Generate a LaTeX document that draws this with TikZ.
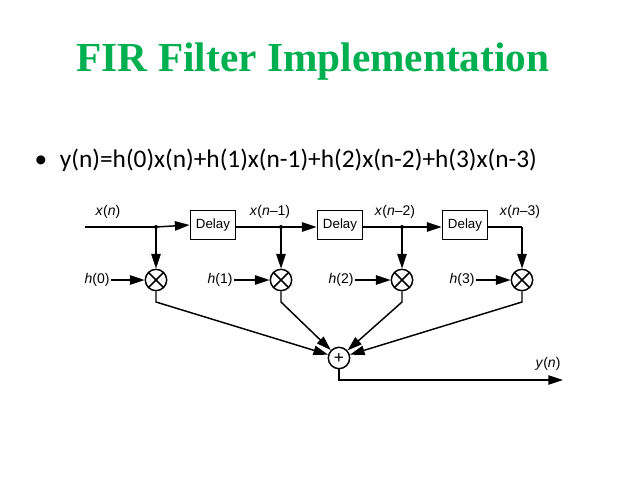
\documentclass[tikz,border=0pt]{standalone}
\usepackage{fontspec}
\setmainfont{Liberation Serif}
\newfontfamily\bodyfont{Carlito}
\newfontfamily\diafont{Liberation Sans}
\usetikzlibrary{arrows.meta}
\definecolor{titlegreen}{RGB}{0,176,80}
\begin{document}
\begin{tikzpicture}[x=0.75pt,y=-0.75pt,
  sig/.style={line width=1.1pt,-{Triangle[length=11pt,width=7pt]}},
  wire/.style={line width=1.1pt},
  delay/.style={draw,line width=1.1pt,minimum width=34pt,minimum height=22pt,inner sep=0pt,font=\diafont\fontsize{10}{11}\selectfont},
  mult/.style={draw,circle,line width=1.1pt,minimum size=16pt,inner sep=0pt,
    path picture={\draw[line width=1.1pt] (path picture bounding box.north west) -- (path picture bounding box.south east)
      (path picture bounding box.north east) -- (path picture bounding box.south west);}},
  adder/.style={draw,circle,line width=1.1pt,minimum size=16pt,inner sep=0pt,font=\diafont\fontsize{13}{13}\selectfont},
  lab/.style={font=\diafont\fontsize{10.5}{11}\selectfont,inner sep=1pt}]
\useasboundingbox (0,0) rectangle (638,478);
\node[font=\fontsize{31}{34}\selectfont\bfseries,text=titlegreen] (title) at (313,62) {FIR Filter Implementation};
\node[font=\bodyfont\fontsize{19}{22}\selectfont,anchor=west] (eq) at (30,160) {\textbullet\hspace{0.5em}y(n)=h(0)x(n)+h(1)x(n-1)+h(2)x(n-2)+h(3)x(n-3)};

\coordinate (in) at (85,227);
\coordinate (j0) at (156,227);
\coordinate (j1) at (281,227);
\coordinate (j2) at (402,227);
\coordinate (c3) at (522,227);
\node[delay] (d1) at (213,225) {Delay};
\node[delay] (d2) at (340,225) {Delay};
\node[delay] (d3) at (465,225) {Delay};
\node[mult] (m0) at (156,280) {};
\node[mult] (m1) at (281,280) {};
\node[mult] (m2) at (402,280) {};
\node[mult] (m3) at (522,280) {};
\node[adder] (add) at (339,358) {+};
\node[lab] (h0) at (97,280) {\textit{h}(0)};
\node[lab] (h1) at (220,280) {\textit{h}(1)};
\node[lab] (h2) at (341,280) {\textit{h}(2)};
\node[lab] (h3) at (462,280) {\textit{h}(3)};
\node[lab] (x0) at (108,212) {\textit{x}(\textit{n})};
\node[lab] (x1) at (270,212) {\textit{x}(\textit{n}\textendash1)};
\node[lab] (x2) at (395,212) {\textit{x}(\textit{n}\textendash2)};
\node[lab] (x3) at (520,212) {\textit{x}(\textit{n}\textendash3)};
\node[lab] (yn) at (548,364) {\textit{y}(\textit{n})};
\coordinate (out) at (563,380);
\coordinate (b0) at (156,302);
\coordinate (b1) at (281,302);
\coordinate (b2) at (402,302);
\coordinate (b3) at (522,302);

\draw[wire] (in) -- (j0);
\draw[sig] (j0) -- (d1.west);
\draw[wire] (d1.east |- j1) -- (j1);
\draw[sig] (j1) -- (d2.west |- j1);
\draw[wire] (d2.east |- j2) -- (j2);
\draw[sig] (j2) -- (d3.west |- j2);
\draw[wire] (d3.east |- c3) -- (c3);
\fill (j0) circle (1.5pt) (j1) circle (1.5pt) (j2) circle (1.5pt);
\draw[sig] (j0) -- (m0);
\draw[sig] (j1) -- (m1);
\draw[sig] (j2) -- (m2);
\draw[sig] (c3) -- (m3);
\draw[sig] (h0) -- (m0);
\draw[sig] (h1) -- (m1);
\draw[sig] (h2) -- (m2);
\draw[sig] (h3) -- (m3);
\draw[sig] (m0) -- (b0) -- (add);
\draw[sig] (m1) -- (b1) -- (add);
\draw[sig] (m2) -- (b2) -- (add);
\draw[sig] (m3) -- (b3) -- (add);
\draw[sig] (add) |- (out);
\end{tikzpicture}
\end{document}
